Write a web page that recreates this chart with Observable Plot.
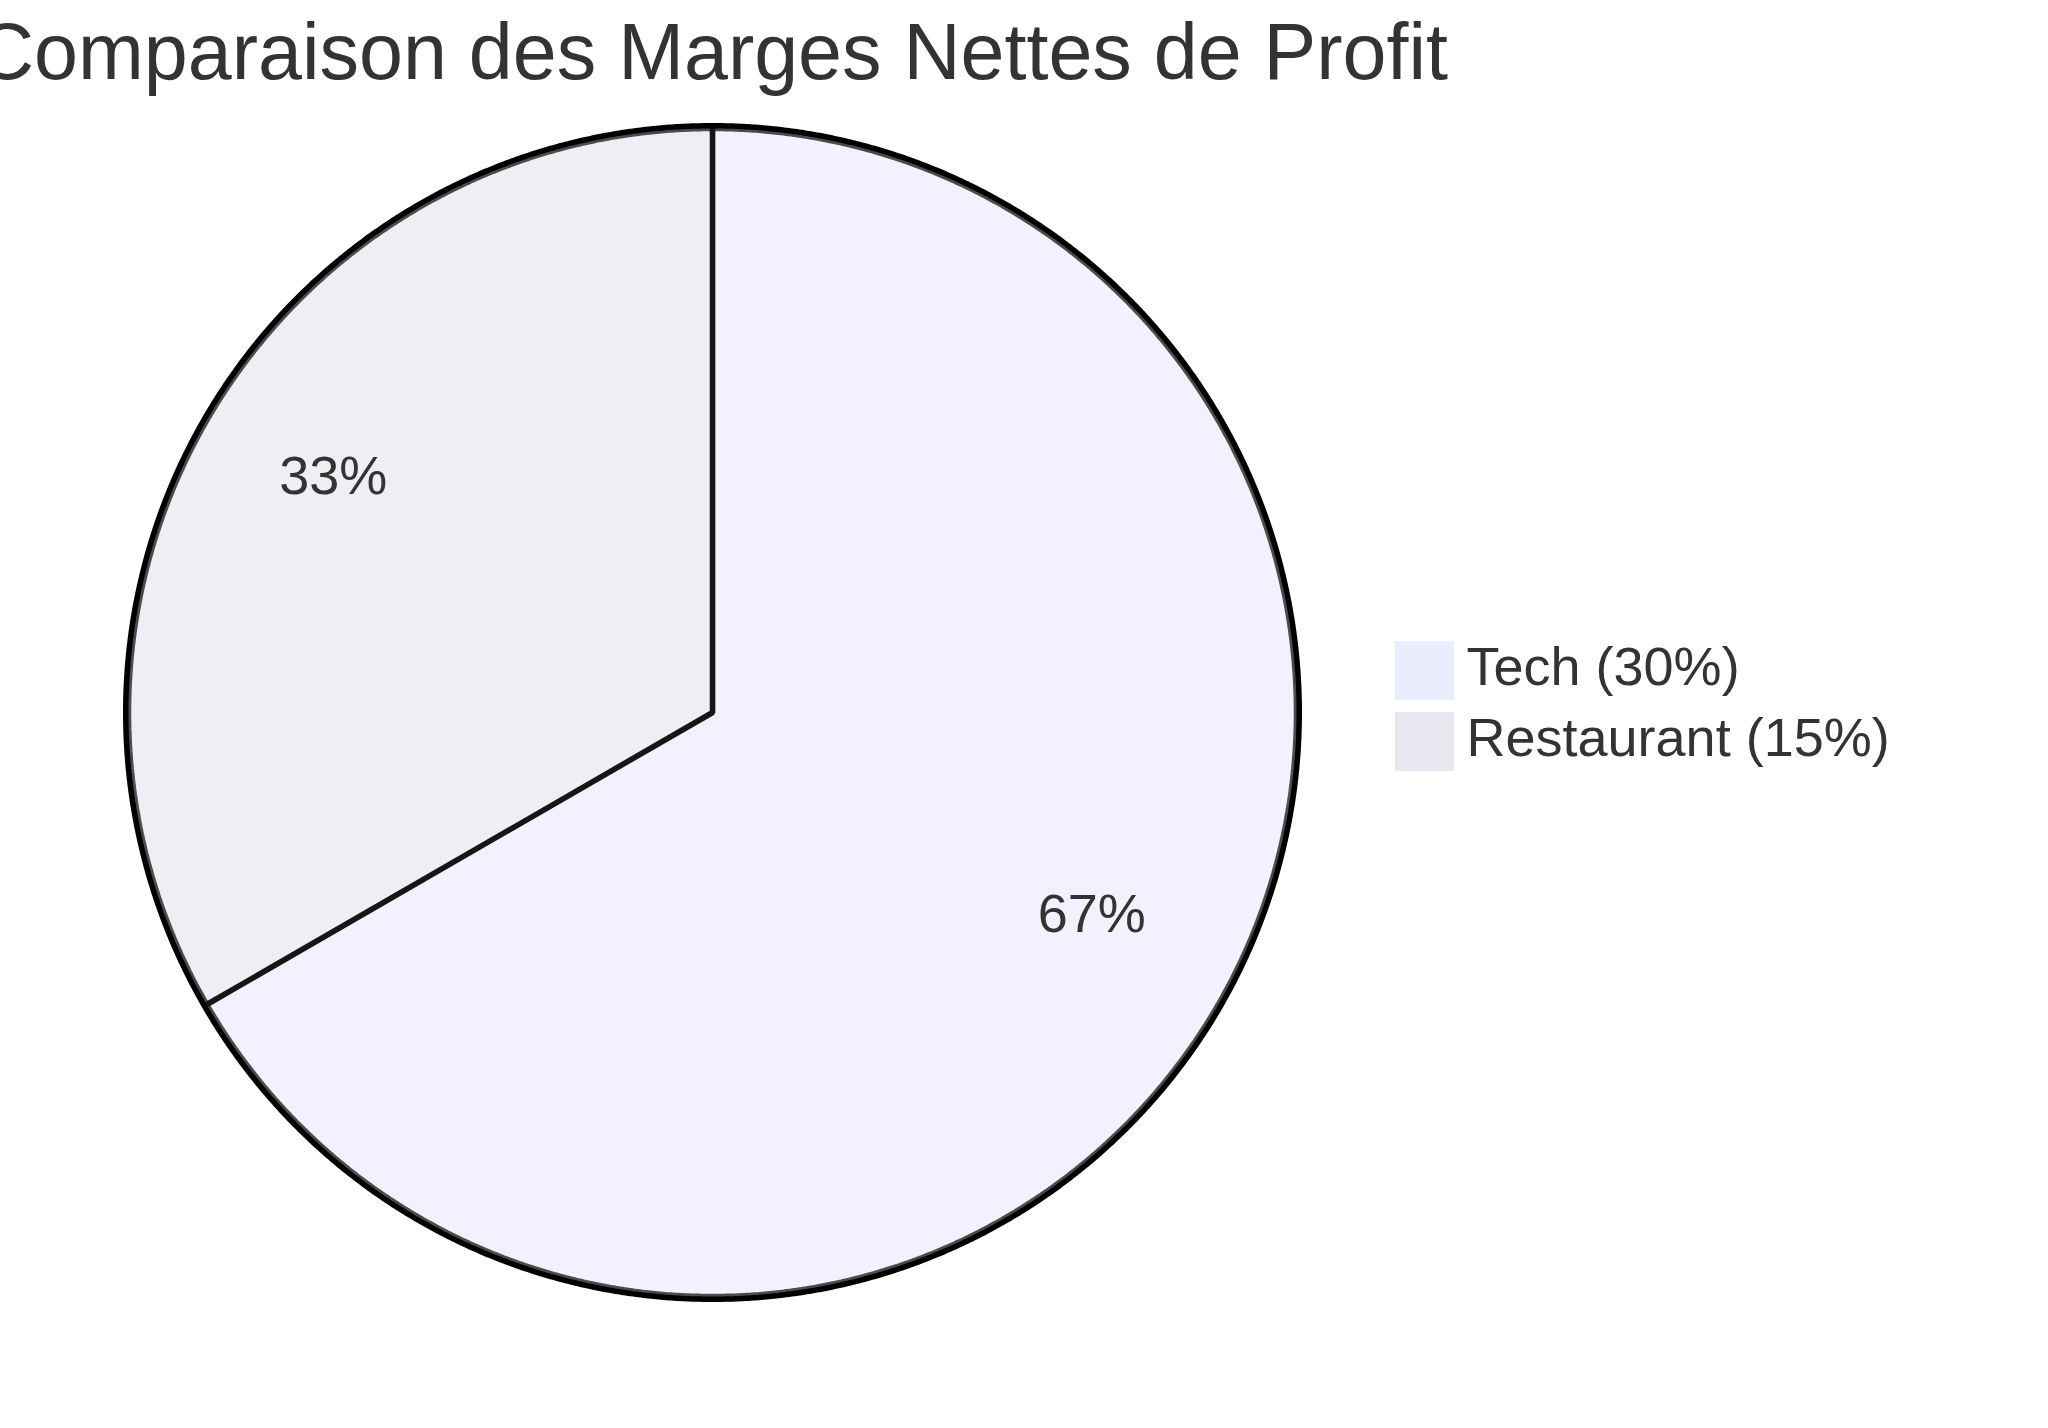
<!DOCTYPE html>
<html>
<head>
<meta charset="utf-8">
<script src="https://cdn.jsdelivr.net/npm/d3@7"></script>
<script src="https://cdn.jsdelivr.net/npm/@observablehq/plot@0.6"></script>
<style>
  html, body { margin: 0; padding: 0; background: #ffffff; }
  #chart svg { display: block; }
</style>
</head>
<body>
<div id="chart"></div>
<script>
// ---- data ----
const title = "Comparaison des Marges Nettes de Profit";
const categories = ["Tech", "Restaurant"];
const values = [30, 15];
const legendLabels = ["Tech (30%)", "Restaurant (15%)"];
const colors = ["#ECECFF", "#E8E8F0"];

// ---- layout (pixels) ----
const W = 2048, H = 1428;
const CX = 712, CY = 712, R = 584;   // pie centre and radius
const SW = 5.5;                      // stroke width
const FONT = "'Liberation Sans', Arial, Helvetica, sans-serif";
const TEXT = "#333333";
const toX = px => (px - CX) / R;
const toY = py => (CY - py) / R;

const total = d3.sum(values);
const arcs = d3.pie().sort(null).value(d => d)(values);

// slice outlines (centre -> arc -> centre), in units of the radius
const slicePts = [];
arcs.forEach((a, i) => {
  const cat = categories[i];
  const n = Math.max(2, Math.ceil((a.endAngle - a.startAngle) / (Math.PI / 720)));
  slicePts.push({cat, x: 0, y: 0});
  for (let k = 0; k <= n; k++) {
    const t = a.startAngle + (a.endAngle - a.startAngle) * k / n;
    slicePts.push({cat, x: Math.sin(t), y: Math.cos(t)});
  }
  slicePts.push({cat, x: 0, y: 0});
  slicePts.push({cat, x: Math.sin(a.startAngle), y: Math.cos(a.startAngle)});
});

// outer ring
const ringR = (R + SW / 2) / R;
const ringPts = d3.range(0, 1441).map(k => {
  const t = k / 1440 * 2 * Math.PI;
  return {x: ringR * Math.sin(t), y: ringR * Math.cos(t)};
});

const marks = [];
marks.push(Plot.line(ringPts, {x: "x", y: "y", stroke: "#000", strokeWidth: SW, fill: "none", curve: "linear"}));
categories.forEach((c, i) => {
  marks.push(Plot.line(slicePts.filter(d => d.cat === c), {
    x: "x", y: "y", fill: colors[i], stroke: "#000", strokeWidth: SW,
    opacity: 0.7, strokeLinejoin: "miter", strokeLinecap: "butt", curve: "linear"
  }));
});
// percentage labels
marks.push(Plot.text(arcs, {
  x: a => 0.75 * Math.sin((a.startAngle + a.endAngle) / 2),
  y: a => 0.75 * Math.cos((a.startAngle + a.endAngle) / 2),
  text: a => (a.value / total * 100).toFixed(0) + "%",
  fontSize: 54, fill: TEXT, textAnchor: "middle", lineAnchor: "bottom", fontFamily: FONT
}));
// title
marks.push(Plot.text([title], {
  x: 0, y: toY(78), text: d => d, fontSize: 79, fill: TEXT,
  textAnchor: "middle", lineAnchor: "bottom", fontFamily: FONT
}));
// legend
legendLabels.forEach((lab, i) => {
  marks.push(Plot.rect([lab], {
    x1: toX(1395), x2: toX(1454), y1: toY(641 + 71 * i), y2: toY(700 + 71 * i),
    fill: colors[i]
  }));
  marks.push(Plot.text([lab], {
    x: toX(1466), y: toY(684 + 71 * i), text: d => d, fontSize: 54, fill: TEXT,
    textAnchor: "start", lineAnchor: "bottom", fontFamily: FONT
  }));
});

const chart = Plot.plot({
  width: W,
  height: H,
  margin: 0,
  x: {type: "linear", domain: [-1, 1], range: [CX - R, CX + R], axis: null},
  y: {type: "linear", domain: [-1, 1], range: [CY + R, CY - R], axis: null},
  style: {fontFamily: FONT, background: "#ffffff", overflow: "hidden"},
  marks
});
document.getElementById("chart").appendChild(chart);
</script>
</body>
</html>
